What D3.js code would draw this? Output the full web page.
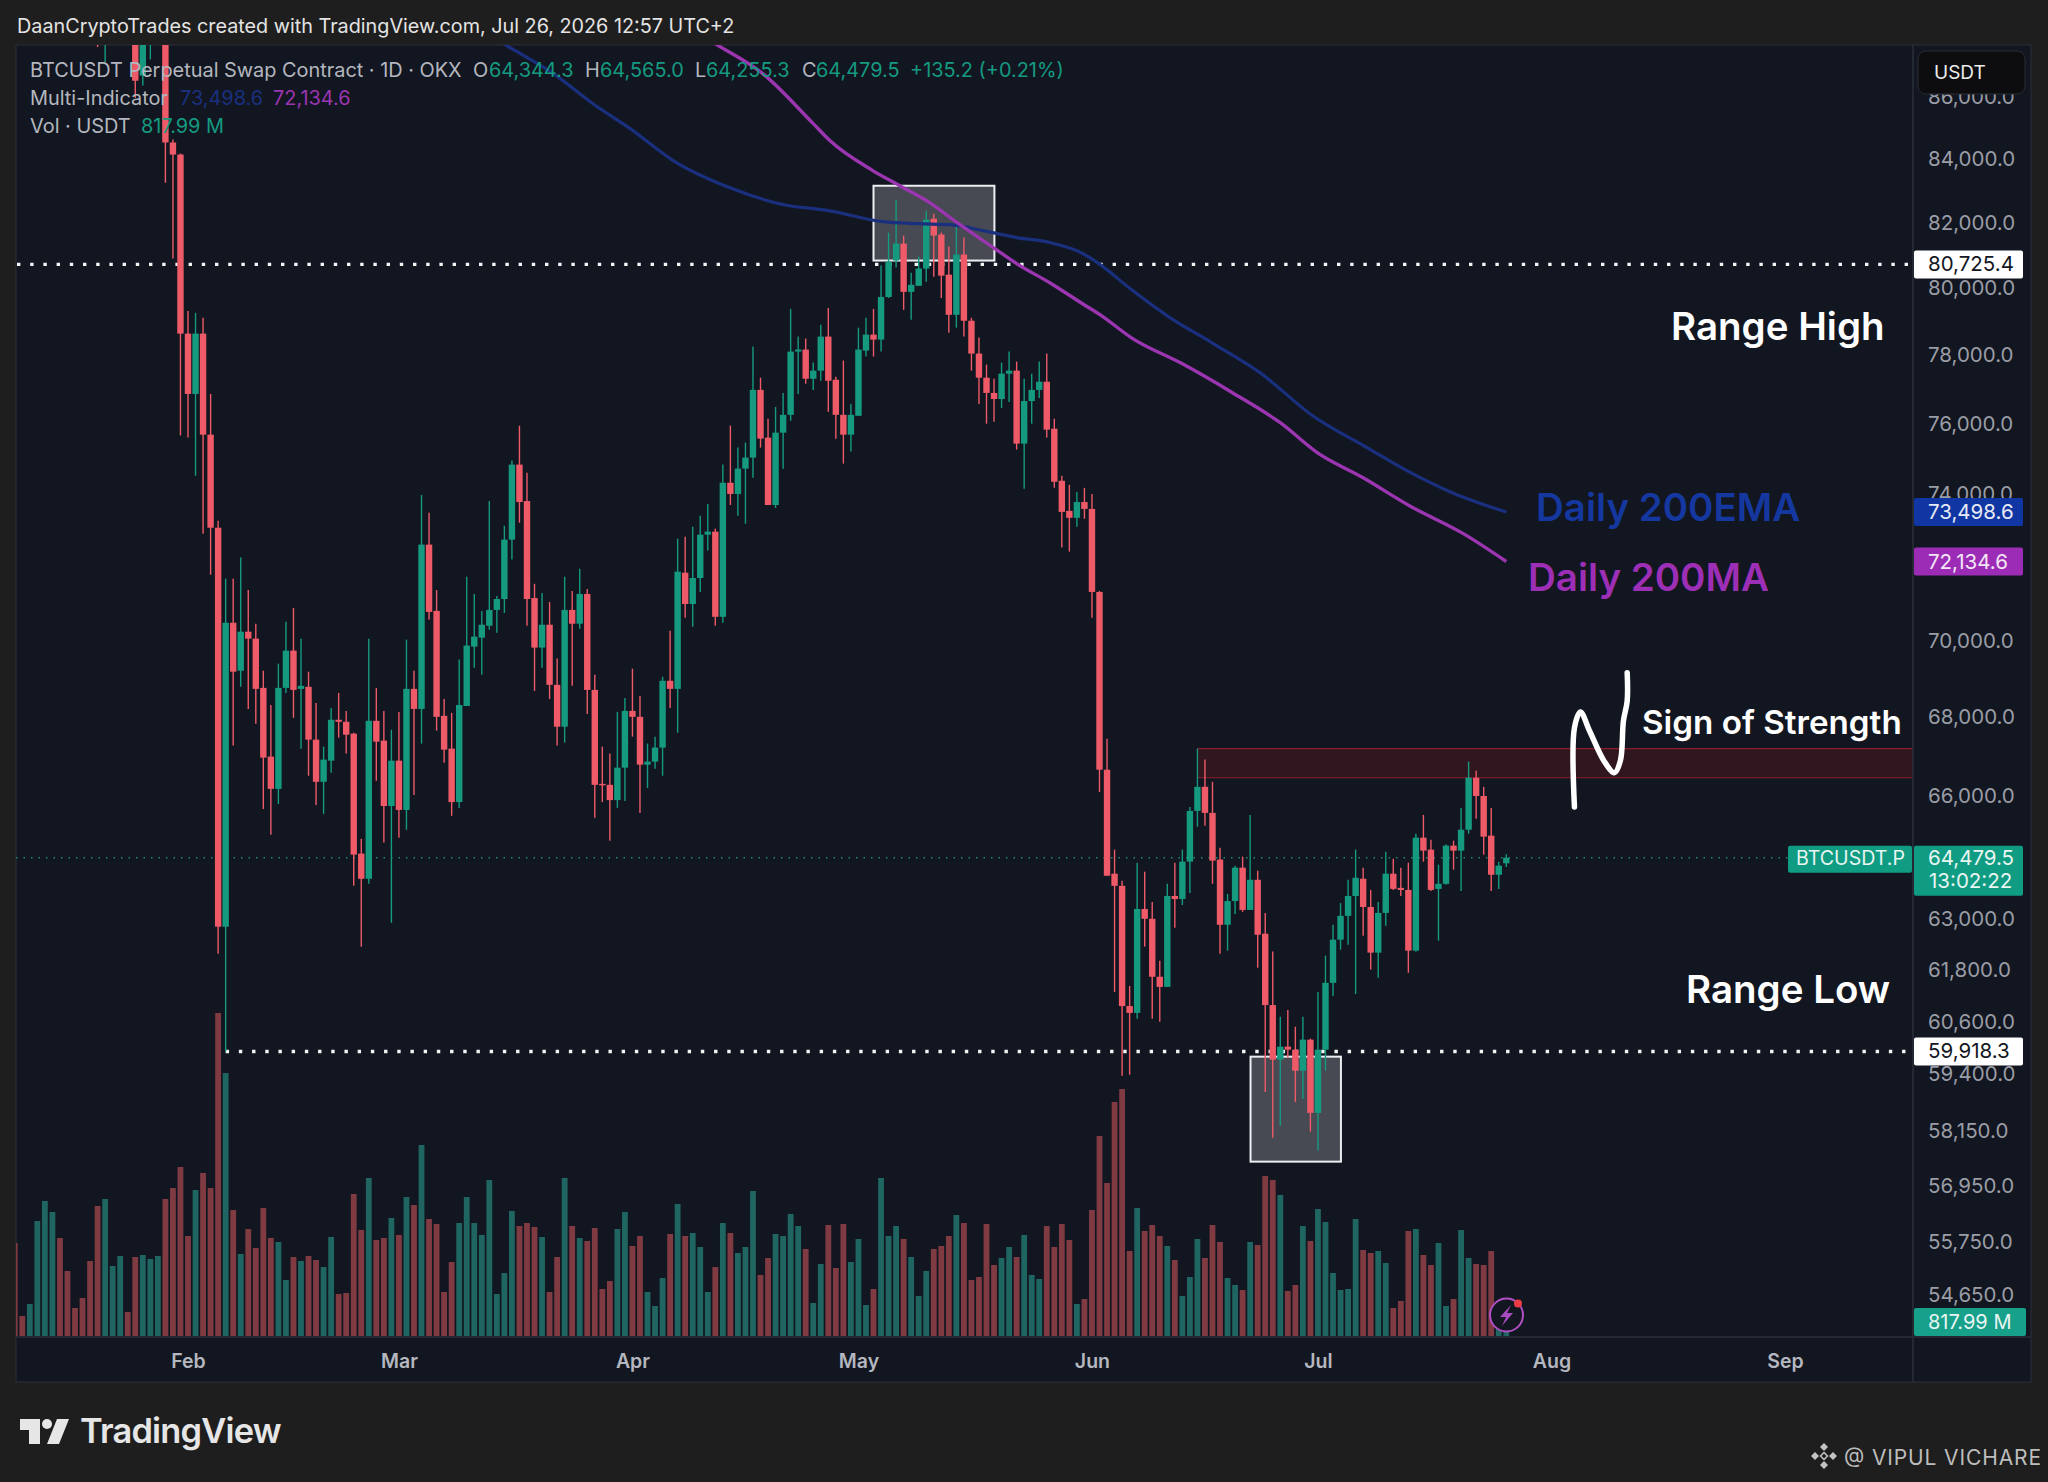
<!DOCTYPE html>
<html lang="en">

<head>
    <title>BTCUSDT 1D range chart</title>
    <meta charset="utf-8">
    <script src="https://d3js.org/d3.v7.min.js"></script>
    <style>
        html, body { margin: 0; padding: 0; background: #1e1e1e; }
        svg { display: block; }
        text { font-family: Inter, "Noto Sans", sans-serif; }
    </style>
</head>

<body>
    <div id="container1"></div>
    <script>
        // Daily candles, one line per month, first candle is Jan 9 2026
        const open = [
            90700,90400,90300,90800,91300,95500,97000,95600,95100,95000,94900,92600,88300,89500,89600,89700,89200,86710,88300,89200,89300,84540,84155,
            78637,76861,78637,75685,73064,62817,70481,69213,70243,70058,68764,66997,66184,68764,69741,68738,68791,67429,66361,66895,67938,67887,67582,64580,63968,67912,67404,65756,
            66895,65658,68738,68218,72598,70798,68040,67200,65854,68294,69847,70085,70402,70824,71117,72735,74831,73805,71144,69821,70428,68843,67760,70824,70455,71254,68711,66310,66285,65903,66717,
            68167,68014,66793,66870,67226,68949,68738,71830,70983,71686,72872,72955,70639,74318,74004,74717,75030,76979,75600,73695,75742,76255,78104,78163,77305,77542,78548,77275,76255,75685,
            76227,78133,78607,78459,79736,80843,81365,79890,80074,80597,82134,81642,80412,79199,81027,79021,78045,77335,76890,76713,77453,77542,75429,76654,76979,77216,75856,74375,73531,73339,73778,
            73586,71308,66666,64091,63797,60958,60800,63241,63006,61638,61402,63552,63479,64385,65633,66235,65584,64434,62864,63430,64238,63218,63944,62652,60981,59733,60028,59960,59483,60187,
            58541,59960,61497,62510,63076,63552,63969,63288,62204,63147,64091,63748,63699,62251,64972,64678,63724,63846,64776,64654,65168,66463,66006,65021,64066,64344.3
        ];
        const high = [
            91500,90700,91200,92400,96000,97900,97200,95900,95500,95500,95000,92900,90400,90500,91000,89800,89500,88900,89400,90500,89500,84634,84190,
            79317,79258,79110,76860,73256,71665,71665,72241,71360,70455,69213,68319,69398,70507,70877,70058,69187,68370,67251,68243,68632,68167,67607,64948,70058,68764,68167,67684,
            68141,70032,69213,73976,73476,71360,68474,68116,69504,71720,71254,70798,73805,71199,73119,74945,75942,74603,71528,71281,71036,69530,71720,71336,71940,71391,69108,67251,67073,68141,68500,
            69266,68553,67328,67506,69055,70270,72763,72817,73092,73394,73723,73037,74831,75942,75315,75457,78252,77335,76141,76483,76890,79376,78548,78489,77778,78903,79406,77364,77838,76569,
            78814,79110,79376,80689,81703,82719,81611,80474,80966,82380,82287,81703,81273,81949,81550,79110,78518,77719,77305,77778,78104,77808,77305,77453,77808,78045,76141,74517,74261,74061,74175,
            74004,71336,67455,64678,63920,61424,64360,64140,63406,62015,63846,64360,64678,65731,67200,66921,66361,64727,63601,64287,64507,65535,64164,63147,62232,60709,60868,60482,60709,60210,
            61284,62133,62864,63383,63944,64678,64238,63699,63406,64629,64458,64238,64360,65070,65535,64923,64311,64801,64899,65707,66870,66641,66235,65707,64385,64565
        ];
        const low = [
            89300,90200,90000,90000,91000,94500,95000,94300,94900,94700,92000,87650,87140,88400,88500,88900,85980,86380,87240,88800,83260,80904,75657,
            75600,74517,72900,71775,62180,59918,67277,68791,68218,67836,65682,65046,65805,68632,67989,67200,66514,65780,65560,66590,67480,67073,63797,62345,63846,66387,64850,62911,
            64972,65168,66031,67328,70560,67658,66844,65511,65707,68896,69293,69108,70296,70217,70745,72187,73201,70402,68685,69293,68474,67277,67353,68817,70322,68090,65462,65854,64899,65707,65878,
            67506,65584,66209,66692,66514,68243,67607,70613,70375,71308,72434,70402,70481,73695,73394,73174,74460,75315,73695,73613,74717,76084,76861,77157,76979,77246,76341,75571,74859,75201,
            76227,77956,77956,78104,79705,80627,79347,79051,80074,80197,80351,79705,78666,78814,78548,77542,76569,76000,76056,76455,76626,75258,74147,76000,76743,75600,74175,72516,72406,73092,73311,
            70613,66107,64042,61284,59370,59393,60664,62345,60664,60595,61402,62793,63336,63626,65241,65266,63846,62180,62251,63123,63171,63218,61850,59007,57994,58256,59779,58781,58848,58125,
            57710,59483,61190,62275,62392,61237,62605,61807,61612,62840,63699,63552,61732,62227,64385,63675,62487,63822,64189,63675,65070,65437,64556,63675,63724,64255.3
        ];
        const close = [
            90400,90300,90800,91300,95500,97000,95600,95100,95000,94900,92600,88300,89500,89600,89700,89200,86540,88300,89200,89300,84540,84155,78637,
            76861,78637,75685,73064,62817,70481,69187,70243,70058,68738,66971,66184,68764,69741,68711,68817,67429,66361,66921,67938,67887,67556,64556,63968,67912,67378,65756,66895,
            65658,68738,68218,72598,70771,68014,67175,65854,68319,69874,70111,70428,70824,71117,72735,74831,73778,71117,69821,70428,68843,67760,70824,70455,71254,68711,66285,66285,65903,66717,68167,
            68014,66793,66870,67226,68949,68738,71857,70983,71686,72872,72955,70639,74318,74004,74717,75030,76979,75571,73695,75742,76255,78104,78163,77305,77542,78548,77246,76255,75685,76255,
            78163,78607,78459,79736,80812,81365,79890,80105,80597,82103,81611,80382,79199,81027,79021,78045,77335,76890,76713,77453,77542,75429,76654,76979,77216,75828,74346,73503,73339,73778,73586,
            71308,66666,64042,63797,60958,60800,63241,63006,61638,61402,63552,63479,64385,65633,66235,65584,64409,62864,63430,64238,63218,63944,62628,60981,59733,60028,59960,59483,60187,58541,
            59960,61497,62510,63076,63552,63993,63288,62204,63147,64091,63724,63699,62251,64972,64654,63699,63846,64776,64654,65168,66463,66006,64997,64066,64287,64479.5
        ];
        // Volume in billions of USDT
        const volume = [
            9.3,2.0,3.2,11.5,13.5,12.4,9.8,6.5,2.8,3.8,7.5,13.0,13.7,7.0,8.0,2.4,7.9,8.1,7.7,8.0,13.7,14.8,16.9,
            10.0,14.6,16.3,14.8,32.3,26.3,12.6,8.2,10.7,8.8,12.8,9.8,9.4,5.6,7.9,7.5,8.0,7.6,6.9,9.9,4.2,4.3,14.2,10.6,15.8,9.6,9.8,11.8,
            10.1,13.9,13.1,19.1,11.7,11.2,4.4,7.4,11.3,13.9,11.3,10.1,15.6,4.2,6.3,12.5,11.0,11.3,10.9,9.9,4.4,7.9,15.8,11.0,9.8,9.5,10.8,4.7,5.5,10.7,12.4,
            9.0,10.0,4.4,3.0,5.8,10.2,13.2,10.0,10.3,8.9,4.4,6.9,11.3,10.3,8.3,8.9,14.5,6.1,7.8,10.2,10.0,12.2,11.0,8.7,3.3,7.2,11.1,6.8,11.2,7.4,
            9.7,3.1,4.7,15.8,10.0,11.0,9.7,7.9,4.0,6.5,8.7,9.0,10.0,12.1,11.3,5.6,5.9,11.2,7.1,7.8,8.9,7.9,10.1,6.1,5.7,11.0,8.9,11.2,9.6,3.2,3.7,
            12.6,20.0,15.3,23.4,24.7,8.5,12.8,10.5,11.1,10.0,9.0,7.6,4.0,5.9,9.7,7.8,11.1,9.4,5.8,5.1,4.6,9.4,9.1,16.0,15.6,14.1,4.5,5.1,11.0,9.5,
            12.7,11.4,6.3,4.6,4.7,11.7,8.6,8.3,8.5,7.3,2.8,3.5,10.5,10.7,8.1,7.1,9.3,3.0,3.7,10.6,7.8,7.2,7.1,8.5,0.9,0.818
        ];

        // Moving averages, read at sparse points (days after Feb 1, price)
        const emaDays = [40.75,42.3,48.5,53.8,58.7,64.4,72.3,78.6,85.2,92.3,96.8,101.2,105.5,110,114.4,118.8,121.1,125.1,130,136.1,142.3,149.3,156.5,161.8,167.9,175];
        const emaValues = [87934,87700,86774,85783,84985,83964,83070,82595,82380,82041,81980,81949,81765,81550,81396,81058,80720,79982,79169,78341,77483,76227,75315,74660,74033,73498.6];
        const maDays = [69.3,70.4,76.3,83,85.2,90.9,94.5,98.5,102.1,106.9,110,114.4,118.8,121.1,125.4,131.7,138.7,145,149.9,156,162.2,169.3,175];
        const maValues = [87868,87700,86774,85145,84602,83645,83166,82626,82011,81242,80750,80166,79524,79199,78489,77778,76890,76027,75172,74460,73668,72900,72134.6];

        // Axis ticks
        const priceTicks = [86000,84000,82000,80000,78000,76000,74000,70000,68000,66000,63000,61800,60600,59400,58150,56950,55750,54650];

        // Drawings on the chart (days after Feb 1, price)
        const rangeHigh = 80725.4;
        const rangeLow = 59918.3;
        const rangeLowStartDay = 5;
        const lastPrice = 64479.5;
        const boxDays = [[91,107.05],[141.05,153.05]];
        const boxPrices = [[83166,80843],[59801,57470]];
        const zoneStartDay = 134;
        const zonePrices = [67200,66463];
        const scribbleDays = [184.05,184.05,184.85,186.05,187.95,189.35,190.15,190.55,191.05,191.05];
        const scribblePrices = [65731,67734,68141,67658,66895,66590,66895,67912,68421,69160];

        // Create chart dimensions
        const width = 2048;
        const height = 1482;
        const pane = { left: 16, right: 1913, top: 45, volumeBase: 1336, bottom: 1337, axisBottom: 1382, outerRight: 2031 };

        const colors = {
            page: "#1e1e1e", bg: "#121620", border: "#2b2f38", up: "#159a80", down: "#ee5a68",
            volUp: "#1f6561", volDown: "#803a41", ema: "#1a307f", ma: "#9b35b0", tick: "#9a9da6", label: "#b4b7bf"
        };

        const feb1 = new Date(Date.UTC(2026, 1, 1));
        const jan9 = new Date(Date.UTC(2026, 0, 9));

        // Scales
        const x = d3.scaleUtc()
            .domain([feb1, new Date(Date.UTC(2026, 8, 1))])
            .range([188, 1785]);
        const y = d3.scaleLog()
            .domain([54650, 84000])
            .range([1294.5, 159.4]);
        const yVolume = d3.scaleLinear()
            .domain([0, 40])
            .range([pane.volumeBase, pane.volumeBase - 400]);

        const xDay = d => x(new Date(feb1.getTime() + d * 86400000));

        const candles = open.map((o, i) => ({
            date: d3.utcDay.offset(jan9, i),
            open: o, high: high[i], low: low[i], close: close[i], volume: volume[i]
        }));
        const isUp = d => d.close >= d.open;

        // Draw canvas
        const svg = d3.select("#container1")
            .append("svg")
            .attr("width", width)
            .attr("height", height);

        svg.append("rect").attr("width", width).attr("height", height).attr("fill", colors.page);

        svg.append("text")
            .attr("x", 17).attr("y", 33)
            .attr("font-size", 19.8)
            .attr("fill", "#e4e4e4")
            .text("DaanCryptoTrades created with TradingView.com, Jul 26, 2026 12:57 UTC+2");

        svg.append("rect")
            .attr("x", pane.left).attr("y", pane.top)
            .attr("width", pane.outerRight - pane.left).attr("height", pane.axisBottom - pane.top)
            .attr("fill", colors.bg)
            .attr("stroke", colors.border);

        svg.append("defs").append("clipPath").attr("id", "plot")
            .append("rect")
            .attr("x", pane.left).attr("y", pane.top)
            .attr("width", pane.right - pane.left).attr("height", pane.bottom - pane.top);

        const plot = svg.append("g").attr("clip-path", "url(#plot)");

        // Resistance zone
        plot.append("rect")
            .attr("x", xDay(zoneStartDay))
            .attr("y", y(zonePrices[0]))
            .attr("width", pane.right - xDay(zoneStartDay))
            .attr("height", y(zonePrices[1]) - y(zonePrices[0]))
            .attr("fill", "#30161f");
        plot.selectAll(".zone-edge")
            .data(zonePrices)
            .enter().append("line")
            .attr("x1", xDay(zoneStartDay)).attr("x2", pane.right)
            .attr("y1", d => y(d)).attr("y2", d => y(d))
            .attr("stroke", "#8a1f2b")
            .attr("stroke-width", 1.2);

        // Highlight boxes
        plot.selectAll(".box")
            .data(boxDays)
            .enter().append("rect")
            .attr("x", d => xDay(d[0]))
            .attr("y", (d, i) => y(boxPrices[i][0]))
            .attr("width", d => xDay(d[1]) - xDay(d[0]))
            .attr("height", (d, i) => y(boxPrices[i][1]) - y(boxPrices[i][0]))
            .attr("fill", "#474a52")
            .attr("stroke", "#eceff2")
            .attr("stroke-width", 2);

        // Dotted levels
        plot.append("line")
            .attr("x1", pane.left).attr("x2", pane.right)
            .attr("y1", y(lastPrice)).attr("y2", y(lastPrice))
            .attr("stroke", "#1c8a76")
            .attr("stroke-width", 1.5)
            .attr("stroke-dasharray", "1.5 6");
        plot.append("line")
            .attr("x1", pane.left + 1).attr("x2", pane.right)
            .attr("y1", y(rangeHigh)).attr("y2", y(rangeHigh))
            .attr("stroke", "#f4f4f4")
            .attr("stroke-width", 3.4)
            .attr("stroke-dasharray", "3.4 9.8");
        plot.append("line")
            .attr("x1", xDay(rangeLowStartDay)).attr("x2", pane.right)
            .attr("y1", y(rangeLow)).attr("y2", y(rangeLow))
            .attr("stroke", "#f4f4f4")
            .attr("stroke-width", 3.4)
            .attr("stroke-dasharray", "3.4 9.8");

        // Volume bars
        plot.selectAll(".volume")
            .data(candles)
            .enter().append("rect")
            .attr("class", "volume")
            .attr("x", d => x(d.date) - 2.9)
            .attr("y", d => yVolume(d.volume))
            .attr("width", 5.8)
            .attr("height", d => yVolume(0) - yVolume(d.volume))
            .attr("fill", d => isUp(d) ? colors.volUp : colors.volDown);

        // Candles
        plot.selectAll(".wick")
            .data(candles)
            .enter().append("line")
            .attr("class", "wick")
            .attr("x1", d => x(d.date)).attr("x2", d => x(d.date))
            .attr("y1", d => y(d.high)).attr("y2", d => y(d.low))
            .attr("stroke", d => isUp(d) ? colors.up : colors.down)
            .attr("stroke-width", 1.4);
        plot.selectAll(".body")
            .data(candles)
            .enter().append("rect")
            .attr("class", "body")
            .attr("x", d => x(d.date) - 3.2)
            .attr("y", d => y(Math.max(d.open, d.close)))
            .attr("width", 6.4)
            .attr("height", d => Math.max(1.5, Math.abs(y(d.open) - y(d.close))))
            .attr("fill", d => isUp(d) ? colors.up : colors.down);

        // Moving averages
        const avgLine = d3.line().x(d => xDay(d[0])).y(d => y(d[1])).curve(d3.curveMonotoneX);
        plot.append("path")
            .attr("d", avgLine(d3.zip(emaDays, emaValues)))
            .attr("fill", "none").attr("stroke", colors.ema).attr("stroke-width", 3.2);
        plot.append("path")
            .attr("d", avgLine(d3.zip(maDays, maValues)))
            .attr("fill", "none").attr("stroke", colors.ma).attr("stroke-width", 3.4);

        // Hand drawn N
        plot.append("path")
            .attr("d", d3.line().x(d => xDay(d[0])).y(d => y(d[1])).curve(d3.curveCatmullRom)(d3.zip(scribbleDays, scribblePrices)))
            .attr("fill", "none").attr("stroke", "#ffffff").attr("stroke-width", 5.5)
            .attr("stroke-linecap", "round").attr("stroke-linejoin", "round");

        // Pane separators
        svg.append("line")
            .attr("x1", pane.left).attr("x2", pane.outerRight)
            .attr("y1", pane.bottom).attr("y2", pane.bottom)
            .attr("stroke", colors.border).attr("stroke-width", 1.5);
        svg.append("line")
            .attr("x1", pane.right).attr("x2", pane.right)
            .attr("y1", pane.top).attr("y2", pane.axisBottom)
            .attr("stroke", colors.border).attr("stroke-width", 1.5);

        // Price axis
        const priceAxis = svg.append("g")
            .attr("transform", `translate(${pane.right},0)`)
            .call(d3.axisRight(y).tickValues(priceTicks).tickFormat(d3.format(",.1f")).tickSize(0).tickPadding(15));
        priceAxis.select(".domain").remove();
        priceAxis.selectAll("text")
            .attr("font-family", "Inter, sans-serif")
            .attr("font-size", 20.5)
            .attr("fill", colors.tick);

        // Time axis
        const timeAxis = svg.append("g")
            .attr("transform", `translate(0,${pane.bottom})`)
            .call(d3.axisBottom(x).ticks(d3.utcMonth.every(1)).tickFormat(d3.utcFormat("%b")).tickSize(0).tickPadding(17));
        timeAxis.select(".domain").remove();
        timeAxis.selectAll("text")
            .attr("font-family", "Inter, sans-serif")
            .attr("font-size", 19.5)
            .attr("font-weight", 600)
            .attr("fill", colors.label);

        // Price labels on the axis
        const priceTags = [
            { value: rangeHigh, fill: "#ffffff", color: "#131722" },
            { value: rangeLow, fill: "#ffffff", color: "#131722" },
            { value: emaValues[emaValues.length - 1], fill: "#0f36a3", color: "#e6eaf5" },
            { value: maValues[maValues.length - 1], fill: "#9c2cb5", color: "#f3e6f6" }
        ];
        const tagFormat = d3.format(",.1f");
        priceTags.forEach(t => {
            svg.append("rect")
                .attr("x", pane.right + 1).attr("y", y(t.value) - 14)
                .attr("width", 109).attr("height", 28).attr("rx", 2)
                .attr("fill", t.fill);
            svg.append("text")
                .attr("x", pane.right + 15).attr("y", y(t.value) + 7)
                .attr("font-size", 20.5).attr("fill", t.color)
                .text(tagFormat(t.value));
        });

        // Last price tag with countdown
        svg.append("rect")
            .attr("x", pane.right + 1).attr("y", y(lastPrice) - 12)
            .attr("width", 109).attr("height", 50).attr("rx", 2)
            .attr("fill", "#0f9c82");
        svg.append("text")
            .attr("x", pane.right + 15).attr("y", y(lastPrice) + 7)
            .attr("font-size", 20.5).attr("fill", "#e8f5f2")
            .text(tagFormat(lastPrice));
        svg.append("text")
            .attr("x", pane.right + 16).attr("y", y(lastPrice) + 30)
            .attr("font-size", 20.5).attr("fill", "#e8f5f2")
            .text("13:02:22");
        svg.append("rect")
            .attr("x", 1788).attr("y", y(lastPrice) - 12)
            .attr("width", 124).attr("height", 27).attr("rx", 2)
            .attr("fill", "#0f9c82");
        svg.append("text")
            .attr("x", 1796).attr("y", y(lastPrice) + 7)
            .attr("font-size", 19.6).attr("fill", "#e8f5f2")
            .text("BTCUSDT.P");

        // Volume tag
        svg.append("rect")
            .attr("x", pane.right + 1).attr("y", 1308)
            .attr("width", 112).attr("height", 28).attr("rx", 2)
            .attr("fill", "#17a08a");
        svg.append("text")
            .attr("x", pane.right + 15).attr("y", 1329)
            .attr("font-size", 20).attr("fill", "#e8f5f2")
            .text("817.99 M");

        // Currency button
        svg.append("rect")
            .attr("x", 1918).attr("y", 51)
            .attr("width", 107).attr("height", 43).attr("rx", 8)
            .attr("fill", "#0d0d0f").attr("stroke", "#2a2c33");
        svg.append("text")
            .attr("x", 1934).attr("y", 79)
            .attr("font-size", 19).attr("fill", "#ececec")
            .text("USDT");

        // Legend rows
        const legend = [
            { x: 30, y: 77, text: "BTCUSDT Perpetual Swap Contract · 1D · OKX", fill: colors.label },
            { x: 473, y: 77, text: "O", fill: colors.label },
            { x: 489, y: 77, text: "64,344.3", fill: colors.up },
            { x: 585, y: 77, text: "H", fill: colors.label },
            { x: 600, y: 77, text: "64,565.0", fill: colors.up },
            { x: 695, y: 77, text: "L", fill: colors.label },
            { x: 706, y: 77, text: "64,255.3", fill: colors.up },
            { x: 802, y: 77, text: "C", fill: colors.label },
            { x: 816, y: 77, text: "64,479.5", fill: colors.up },
            { x: 910, y: 77, text: "+135.2 (+0.21%)", fill: colors.up },
            { x: 30, y: 105, text: "Multi-Indicator", fill: colors.label },
            { x: 180, y: 105, text: "73,498.6", fill: colors.ema },
            { x: 273, y: 105, text: "72,134.6", fill: colors.ma },
            { x: 30, y: 133, text: "Vol · USDT", fill: colors.label },
            { x: 141, y: 133, text: "817.99 M", fill: colors.up }
        ];
        svg.selectAll(".legend")
            .data(legend)
            .enter().append("text")
            .attr("class", "legend")
            .attr("x", d => d.x).attr("y", d => d.y)
            .attr("font-size", 19.9)
            .attr("fill", d => d.fill)
            .text(d => d.text);

        // Hand written notes
        const notes = [
            { x: 1671, y: 340, size: 38.5, text: "Range High", fill: "#ffffff" },
            { x: 1536, y: 521, size: 38.5, text: "Daily 200EMA", fill: "#14389f" },
            { x: 1528, y: 591, size: 38.5, text: "Daily 200MA", fill: "#9c2fb6" },
            { x: 1642, y: 734, size: 33.2, text: "Sign of Strength", fill: "#ffffff" },
            { x: 1686, y: 1003, size: 38.5, text: "Range Low", fill: "#ffffff" }
        ];
        svg.selectAll(".note")
            .data(notes)
            .enter().append("text")
            .attr("class", "note")
            .attr("x", d => d.x).attr("y", d => d.y)
            .attr("font-size", d => d.size)
            .attr("font-weight", 600)
            .attr("fill", d => d.fill)
            .text(d => d.text);

        // Alert icon next to the last bar
        svg.append("circle")
            .attr("cx", 1506.5).attr("cy", 1315).attr("r", 16.5)
            .attr("fill", colors.bg).attr("stroke", "#b24fc4").attr("stroke-width", 2);
        svg.append("path")
            .attr("d", "M1511 1305 L1500 1317 L1506 1317 L1502 1326 L1513 1313 L1507 1313 Z")
            .attr("fill", "#a94ac0");
        svg.append("circle")
            .attr("cx", 1518).attr("cy", 1303.5).attr("r", 4)
            .attr("fill", "#ec3b45");

        // TradingView logo
        svg.append("path")
            .attr("d", "M20 1419 H40 V1444 H29 V1430 H20 Z M57 1419 H69 L59 1444 H47 Z")
            .attr("fill", "#e6e6e6");
        svg.append("circle")
            .attr("cx", 47).attr("cy", 1424).attr("r", 5)
            .attr("fill", "#e6e6e6");
        svg.append("text")
            .attr("x", 80).attr("y", 1443)
            .attr("font-size", 34.4).attr("font-weight", 600)
            .attr("letter-spacing", -0.8)
            .attr("fill", "#e6e6e6")
            .text("TradingView");

        // Watermark
        const mark = svg.append("g").attr("transform", "translate(1824,1456)").attr("fill", "#c4c4c4");
        [[0, -9], [-9, 0], [9, 0], [0, 9]].forEach(p => {
            mark.append("path")
                .attr("d", `M${p[0]} ${p[1] - 4} l4 4 l-4 4 l-4 -4 Z`);
        });
        mark.append("path")
            .attr("d", "M0 -3.5 l3.5 3.5 l-3.5 3.5 l-3.5 -3.5 Z")
            .attr("fill", "none").attr("stroke", "#c4c4c4").attr("stroke-width", 1.5);
        svg.append("text")
            .attr("x", 1844).attr("y", 1465)
            .attr("font-family", "Open Sans")
            .attr("font-size", 21)
            .attr("textLength", 197)
            .attr("fill", "#bdbdbd")
            .text("@ VIPUL VICHARE");
    </script>
</body>

</html>
